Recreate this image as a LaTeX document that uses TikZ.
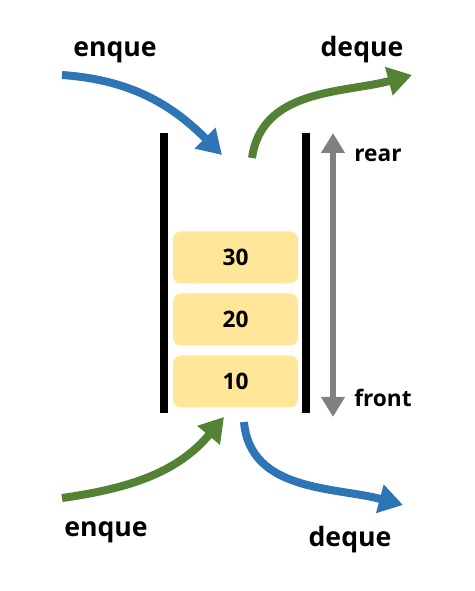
\documentclass[tikz,border=0pt]{standalone}
\usepackage{fontspec}
\setmainfont{Open Sans}
\usepackage{xcolor}
\usepackage{tikz}
\usetikzlibrary{positioning,arrows.meta}
\definecolor{qblue}{HTML}{2E75B6}
\definecolor{qgreen}{HTML}{548235}
\definecolor{qgray}{HTML}{808080}
\definecolor{qcell}{HTML}{FFE699}

\begin{document}
\begin{tikzpicture}[x=0.75pt, y=0.75pt,
  node distance=7.5pt,
  cell/.style={fill=qcell, rounded corners=6pt, minimum width=93.75pt, minimum height=39pt, outer sep=0pt, font=\fontsize{17}{20}\selectfont\bfseries},
  lbl/.style={anchor=base, font=\fontsize{20}{24}\selectfont\bfseries},
  side/.style={anchor=base, font=\fontsize{17}{20}\selectfont\bfseries},
  wall/.style={line width=6pt},
  flow/.style={line width=6pt, -{Triangle[length=18pt, width=21pt]}},
  span/.style={line width=5pt, qgray, {Triangle[length=15pt, width=17pt]}-{Triangle[length=15pt, width=17pt]}}]
\useasboundingbox (0,0) rectangle (474,591);
\node[cell] (c30) at (235.5,333.5) {30};
\node[cell, below=of c30] (c20) {20};
\node[cell, below=of c20] (c10) {10};
\coordinate (lwTop) at (164,458); \coordinate (lwBot) at (164,178);
\coordinate (rwTop) at (306,458); \coordinate (rwBot) at (306,178);
\draw[wall] (lwTop) -- (lwBot); \draw[wall] (rwTop) -- (rwBot);
\coordinate (rearEnd) at (333,458); \coordinate (frontEnd) at (333,174);
\draw[span] (rearEnd) -- (frontEnd);
\node[side] (rear) at (378,429) {rear};
\node[side] (front) at (383,184) {front};
\node[lbl] (enqTop) at (115,534) {enque};
\node[lbl] (deqTop) at (362,534) {deque};
\node[lbl] (enqBot) at (106,54) {enque};
\node[lbl] (deqBot) at (350,44) {deque};
\coordinate (inTopStart) at (62,516); \coordinate (inTopTip) at (222,436);
\coordinate (outTopStart) at (252,433); \coordinate (outTopTip) at (412,516);
\coordinate (inBotStart) at (62,93); \coordinate (inBotTip) at (224,174);
\coordinate (outBotStart) at (244,169); \coordinate (outBotTip) at (403,86);
\draw[flow, qblue] (inTopStart) to[out=-4, in=135] (inTopTip);
\draw[flow, qgreen] (outTopStart) to[out=82, in=195] (outTopTip);
\draw[flow, qgreen] (inBotStart) to[out=8, in=230] (inBotTip);
\draw[flow, qblue] (outBotStart) to[out=-85, in=165] (outBotTip);
\end{tikzpicture}
\end{document}
